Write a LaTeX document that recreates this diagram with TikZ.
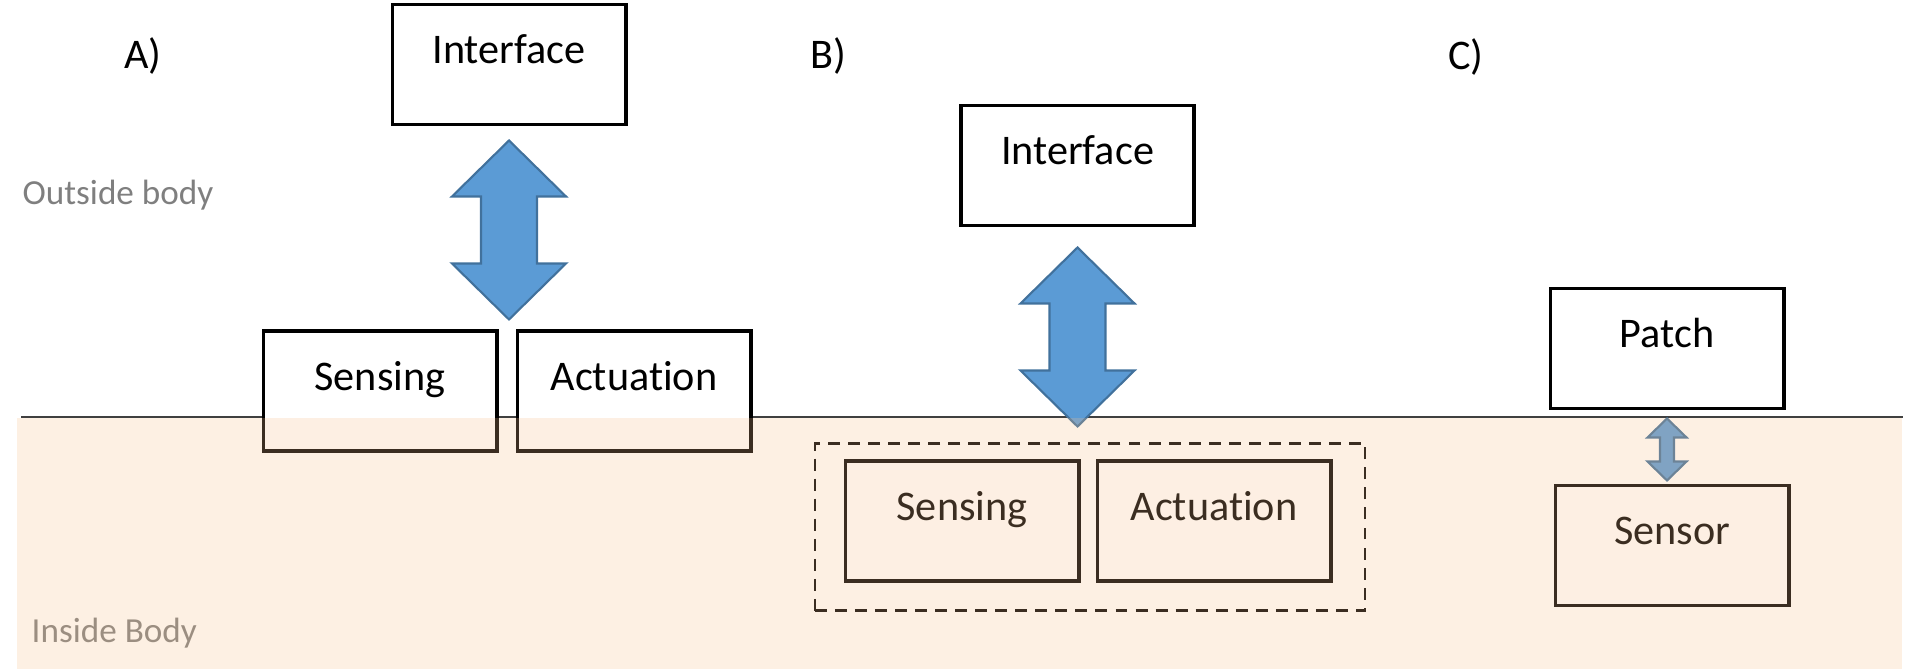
\documentclass[tikz,border=0pt]{standalone}
\usepackage{fontspec}
\setmainfont[Ligatures={NoCommon,NoRare,NoContextual}]{Carlito}
\usepackage{tikz}
\usetikzlibrary{positioning}
\definecolor{officeblue}{RGB}{91,155,213}
\definecolor{officeedge}{RGB}{65,113,156}
\definecolor{skin}{RGB}{247,192,138}
\definecolor{sidegray}{RGB}{127,127,127}

\begin{document}
\begin{tikzpicture}[x=0.01cm, y=-0.01cm,
  font=\fontsize{12}{14}\selectfont,
  box/.style={rectangle, draw=black, line width=1.1pt, fill=white, align=center,
              minimum width=2.33cm, minimum height=1.2cm, inner sep=0pt,
              text height=3mm, text depth=3.2mm},
  grp/.style={rectangle, draw=black, line width=0.75pt, dash pattern=on 3.4pt off 2.3pt,
              minimum width=5.5cm, minimum height=1.67cm},
  fatarrow/.style={fill=officeblue, draw=officeedge, line width=0.6pt, line join=miter},
  side/.style={anchor=west, inner sep=0pt, text=sidegray, font=\fontsize{10}{12}\selectfont},
  tag/.style={inner sep=0pt}]
  \useasboundingbox (0,0) rectangle (1918,669);
  \draw[black!75, line width=0.45pt] (21,417) -- (1903,417);

  \node[tag] (tagA) at (143,56) {A)};
  \node[tag] (tagB) at (828,56) {B)};
  \node[tag] (tagC) at (1466,57) {C)};
  \node[side] (outside) at (22,195) {Outside body};
  \node[side] (inside) at (31,633) {Inside Body};

  \node[box] (ifA) at (509,64.5) {Interface};
  \node[box] (sensA) at (380,391) {Sensing};
  \node[box, right=0.17cm of sensA] (actA) {Actuation};
  \draw[fatarrow] ([yshift=-0.14cm]ifA.south) -- ++(57,56) -- ++(-29,0) -- ++(0,67) -- ++(29,0)
    -- ++(-57,56) -- ++(-57,-56) -- ++(29,0) -- ++(0,-67) -- ++(-29,0) -- cycle;

  \node[box] (ifB) at (1077.5,165.5) {Interface};
  \node[grp] (core) at (1090,527) {};
  \node[box] (sensB) at (962,521) {Sensing};
  \node[box, right=0.15cm of sensB] (actB) {Actuation};
  \draw[fatarrow] ([yshift=-0.2cm]ifB.south) -- ++(57,56) -- ++(-29,0) -- ++(0,67) -- ++(29,0)
    -- ++(-57,56) -- ++(-57,-56) -- ++(29,0) -- ++(0,-67) -- ++(-29,0) -- cycle;

  \node[box] (patch) at (1667,348.5) {Patch};
  \node[box] (sensor) at (1672,545.5) {Sensor};
  \draw[fatarrow] ([yshift=-0.08cm]patch.south) -- ++(19.5,19) -- ++(-12.5,0) -- ++(0,24) -- ++(12.5,0)
    -- ++(-19.5,19) -- ++(-19.5,-19) -- ++(12.5,0) -- ++(0,-24) -- ++(-12.5,0) -- cycle;

  \fill[skin, fill opacity=0.24] (17,418) rectangle (1902,669);
\end{tikzpicture}
\end{document}
